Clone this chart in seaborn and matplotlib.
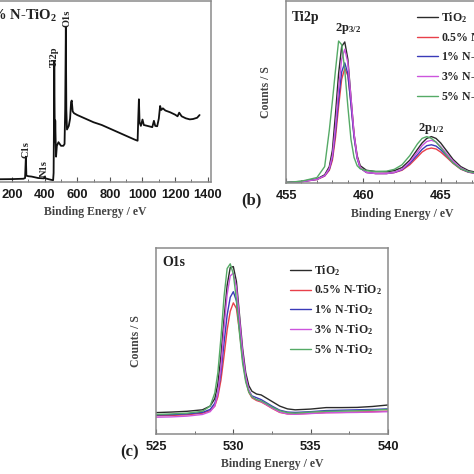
import numpy as np
import pandas as pd
import matplotlib
matplotlib.use("Agg")
import matplotlib.pyplot as plt
import seaborn as sns
from matplotlib.ticker import MultipleLocator

# ---- data (arbitrary count units) ----
samples = ["TiO$_2$", "0.5% N-TiO$_2$", "1% N-TiO$_2$", "3% N-TiO$_2$", "5% N-TiO$_2$"]
colors = ["#2b2b2b", "#e8404a", "#3a3ab8", "#cc55dd", "#55aa66"]

# (a) survey spectrum of 5% N-TiO2
survey_e = [0, 100, 200, 270, 280, 285, 288, 300, 320, 360, 395, 400, 405, 440, 452,
            455, 457, 459, 461, 463, 465, 467, 470, 475, 485, 500, 515, 522, 526, 530,
            533, 537, 548, 556, 562, 566, 572, 580, 600, 650, 700, 750, 800, 850, 900,
            950, 970, 974, 978, 982, 990, 1000, 1008, 1030, 1060, 1070, 1078, 1090, 1100,
            1108, 1115, 1125, 1140, 1170, 1200, 1215, 1225, 1240, 1265, 1290, 1310, 1335, 1350]
survey_v = [1.5, 1.5, 1.6, 1.8, 2.2, 14, 3.5, 3.2, 3.0, 2.2, 2.0, 3.0, 2.0, 1.2, 1.0,
            5, 30, 67, 40, 22, 34, 25, 14, 20, 22, 20, 20, 21, 40, 85.5,
            40, 29, 31, 35, 44, 45, 39, 38, 37, 35, 33, 31.5, 29.5, 27.5, 25.5,
            23.5, 22.8, 35, 45.7, 33, 31, 34.5, 31.5, 31, 30.3, 33.8, 31, 30.8, 35,
            42, 39.8, 40.7, 39.5, 38.5, 37.2, 36.3, 38.3, 36.3, 35.2, 34.6, 34.8, 35.5, 37]

# (b) Ti2p
ti_e = [455, 456, 457, 457.5, 457.8, 458.0, 458.2, 458.4, 458.6, 458.8, 459.0, 459.2,
        459.4, 459.6, 459.8, 460.2, 460.8, 461.5, 462.0, 462.5, 463.0, 463.5, 463.8,
        464.1, 464.4, 464.7, 465.0, 465.4, 465.8, 466.3, 466.8, 467.5, 468.5, 470]
ti_tio2 = [0.3, 0.9, 2.2, 4.5, 9, 18, 38, 60, 75, 77.5, 68, 47, 27, 15, 9.5, 7, 6.3, 6.2,
           6.8, 8.5, 12.5, 18.5, 22, 24.5, 25.5, 24.5, 22, 17.5, 13, 9, 6.8, 5.5, 5, 4.8]
ti_n05 = [0.2, 0.7, 1.9, 3.8, 7, 12.5, 25, 42, 57, 63, 59, 44, 26, 14, 8.3, 5.8, 5.2, 5.2,
          5.7, 7, 10, 14.3, 17, 18.6, 19.2, 18.7, 17, 14, 10.8, 7.6, 5.9, 5, 4.6, 4.4]
ti_n1 = [0.2, 0.7, 2, 4, 7.5, 14, 28, 46, 61, 66, 60, 43, 25, 13.5, 8.2, 5.8, 5.2, 5.2,
         5.8, 7.3, 10.8, 15.5, 18.5, 20.5, 21, 20.3, 18.3, 14.8, 11.2, 7.8, 6, 5, 4.6, 4.4]
ti_n3 = [0.2, 0.7, 2, 4, 8, 15, 31, 52, 68, 73.5, 66, 47, 27, 14, 8.5, 5.8, 5.2, 5.2,
         5.8, 7.5, 11.5, 17, 20.5, 22.8, 23.5, 22.5, 20, 16, 12, 8.3, 6.2, 5, 4.6, 4.4]
ti_n5 = [0.3, 1.0, 3, 9, 29, 45, 62, 78, 76, 62, 42, 24, 14, 9.5, 7.8, 6.8, 6.3, 6.5,
         7.5, 10, 15, 21.5, 24.5, 25.5, 24.5, 22.5, 19.5, 15, 11, 7.8, 6.2, 5.3, 5, 4.8]

# (c) O1s
o_e = [525, 526, 527, 528, 528.5, 528.8, 529.0, 529.2, 529.4, 529.6, 529.8, 530.0, 530.2,
       530.4, 530.6, 530.8, 531.0, 531.2, 531.5, 531.8, 532.1, 532.5, 533.0, 533.5, 534.0,
       535, 536, 537, 538, 539, 540]
o_tio2 = [11.5, 11.8, 12.2, 13.0, 15, 19, 27, 42, 62, 80, 89.5, 90, 82, 64, 46, 33, 26,
          23, 21.5, 21, 19.5, 17.5, 15, 13.5, 13, 13.4, 14.2, 14.2, 14.3, 14.8, 15.6]
o_n05 = [9.8, 10, 10.3, 11.2, 12.5, 15, 20, 29, 42, 56, 66, 70.5, 67.5, 55, 40, 29, 22.5,
         19.5, 18, 17.2, 15.8, 13.8, 11.6, 10.8, 10.7, 11.1, 11.5, 11.6, 11.8, 12.0, 12.3]
o_n1 = [10.2, 10.4, 10.8, 11.6, 13.2, 16.5, 22, 33, 49, 64, 73.5, 76.5, 71.5, 57, 41, 30,
        23.5, 20.5, 19.5, 18.5, 17, 15, 12.8, 11.8, 11.6, 12, 12.6, 12.8, 13, 13.2, 13.5]
o_n3 = [9, 9.2, 9.6, 10.5, 12, 15, 22, 36, 57, 75, 85, 86.5, 79, 62, 44, 31, 23.5, 20,
        18.5, 17.5, 16, 14, 11.8, 10.8, 10.6, 11, 11.4, 11.5, 11.6, 11.8, 12]
o_n5 = [10.5, 10.8, 11.2, 12.2, 15, 22, 33, 52, 74, 89, 91.5, 86, 72, 54, 38, 28, 22.5,
        20, 18.5, 17.8, 16.5, 14.5, 12.5, 11.5, 11.2, 11.8, 12.2, 12.3, 12.5, 12.8, 13.2]


def long_df(e, series):
    parts = []
    for name, vals in zip(samples, series):
        parts.append(pd.DataFrame({"E": e, "counts": vals, "sample": name}))
    return pd.concat(parts, ignore_index=True)


df_survey = pd.DataFrame({"E": survey_e, "counts": survey_v})
df_ti = long_df(ti_e, [ti_tio2, ti_n05, ti_n1, ti_n3, ti_n5])
df_o = long_df(o_e, [o_tio2, o_n05, o_n1, o_n3, o_n5])

sns.set_style("ticks")
plt.rcParams["font.family"] = ["Liberation Serif", "DejaVu Serif"]
plt.rcParams["font.weight"] = "bold"
plt.rcParams["mathtext.fontset"] = "custom"
plt.rcParams["mathtext.rm"] = "Liberation Serif:bold"
plt.rcParams["mathtext.it"] = "Liberation Serif:bold"
plt.rcParams["mathtext.bf"] = "Liberation Serif:bold"

W = 474.0
fig = plt.figure(figsize=(4.74, 4.74), dpi=100)


def px_axes(left, top, right, bottom):
    return fig.add_axes([left / W, 1 - bottom / W, (right - left) / W, (bottom - top) / W])


def style_axes(ax, major, minor):
    for s in ax.spines.values():
        s.set_color("#8a8a8a")
        s.set_linewidth(1.1)
    ax.xaxis.set_major_locator(MultipleLocator(major))
    ax.xaxis.set_minor_locator(MultipleLocator(minor))
    ax.tick_params(axis="x", which="both", direction="in", color="#555555", top=False)
    ax.tick_params(axis="x", which="major", length=3.5, width=0.8, pad=5)
    ax.tick_params(axis="x", which="minor", length=2, width=0.6)
    ax.set_yticks([])
    for lab in ax.get_xticklabels():
        lab.set_fontfamily("Liberation Sans")
        lab.set_fontweight("bold")
        lab.set_fontsize(9.3)
        lab.set_color("#1a1a1a")
    ax.set_xlabel("Binding Energy / eV", fontsize=8.5, fontweight="bold", color="#444444",
                  labelpad=4)


# (a) survey
ax_a = px_axes(-20.6, 1, 211, 182)
sns.lineplot(data=df_survey, x="E", y="counts", color="#111111", linewidth=1.3,
             ax=ax_a, legend=False)
ax_a.set_xlim(0, 1420)
ax_a.set_ylim(0, 100)
style_axes(ax_a, 200, 100)
ax_a.set_ylabel("")

# (b) Ti2p
ax_b = px_axes(286, 1, 518, 183)
sns.lineplot(data=df_ti, x="E", y="counts", hue="sample", palette=colors,
             linewidth=1.0, ax=ax_b)
ax_b.set_xlim(455, 470)
ax_b.set_ylim(0, 100)
style_axes(ax_b, 5, 1)
ax_b.set_ylabel("Counts / S", fontsize=8.5, fontweight="bold", color="#444444", labelpad=10)

# (c) O1s
ax_c = px_axes(156, 248, 388, 434)
sns.lineplot(data=df_o, x="E", y="counts", hue="sample", palette=colors,
             linewidth=1.0, ax=ax_c)
ax_c.set_xlim(525, 540)
ax_c.set_ylim(0, 100)
style_axes(ax_c, 5, 2.5)
ax_c.set_ylabel("Counts / S", fontsize=8.5, fontweight="bold", color="#444444", labelpad=10)

for ax, anchor in [(ax_b, (0.565, 0.95)), (ax_c, (0.578, 0.92))]:
    h, l = ax.get_legend_handles_labels()
    ax.legend(h, l, loc="upper left", bbox_to_anchor=anchor, frameon=False,
              fontsize=8.5, handlelength=1.75, handletextpad=0.3, labelspacing=0.42,
              borderpad=0, borderaxespad=0)

# annotations (pixel positions in the figure)
def ftext(x, y, s, **kw):
    fig.text(x / W, 1 - y / W, s, fontweight="bold", color="#222222", **kw)

ftext(57, 16, "5% N-TiO$_2$", fontsize=10.5, ha="right", va="center")
ftext(67, 18, "O1s", fontsize=7.5, rotation=90, ha="center", va="center")
ftext(54.5, 57, "Ti2p", fontsize=7.5, rotation=90, ha="center", va="center")
ftext(26, 150, "C1s", fontsize=7.5, rotation=90, ha="center", va="center")
ftext(44.5, 169, "N1s", fontsize=7.5, rotation=90, ha="center", va="center")

ftext(292, 17, "Ti2p", fontsize=10, ha="left", va="center")
ftext(348, 29, "2p$_{3/2}$", fontsize=9, ha="center", va="center")
ftext(431, 129, "2p$_{1/2}$", fontsize=9, ha="center", va="center")
ftext(251, 200, "(b)", fontsize=12, ha="center", va="center")

ftext(162, 263, "O1s", fontsize=10, ha="left", va="center")
ftext(130, 452, "(c)", fontsize=12, ha="center", va="center")

fig.savefig("out.png", dpi=100)
